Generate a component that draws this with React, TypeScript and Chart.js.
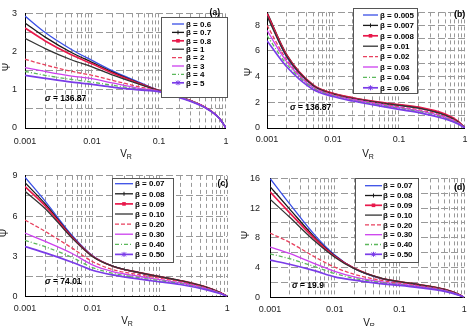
import React, { useEffect, useRef } from "react";
import { Chart, registerables } from "chart.js";
Chart.register(...registerables);

// ---------- data ----------
const V_R = [0.001, 0.002, 0.005, 0.01, 0.02, 0.05, 0.1, 0.2, 0.5, 0.8, 1];
const X_GRID = [
  0.001, 0.002, 0.003, 0.004, 0.005, 0.006, 0.007, 0.008, 0.009,
  0.01, 0.02, 0.03, 0.04, 0.05, 0.06, 0.07, 0.08, 0.09,
  0.1, 0.2, 0.3, 0.4, 0.5, 0.6, 0.7, 0.8, 0.9, 1,
];
const X_LABELS = ["0.001", "0.01", "0.1", "1"];

const BETA_A = ["0.6", "0.7", "0.8", "1", "2", "3", "4", "5"];
const PSI_A = [
  [2.93, 2.5, 2.05, 1.77, 1.5, 1.2, 0.98, 0.82, 0.53, 0.25, 0],
  [2.75, 2.38, 1.97, 1.72, 1.47, 1.18, 0.98, 0.82, 0.53, 0.25, 0],
  [2.62, 2.28, 1.91, 1.68, 1.44, 1.17, 0.98, 0.82, 0.53, 0.25, 0],
  [2.35, 2.08, 1.78, 1.6, 1.39, 1.15, 0.98, 0.82, 0.53, 0.25, 0],
  [1.8, 1.65, 1.48, 1.38, 1.25, 1.08, 0.97, 0.82, 0.53, 0.25, 0],
  [1.58, 1.48, 1.36, 1.29, 1.18, 1.04, 0.96, 0.81, 0.53, 0.25, 0],
  [1.48, 1.38, 1.27, 1.2, 1.12, 1.02, 0.95, 0.81, 0.52, 0.25, 0],
  [1.38, 1.3, 1.2, 1.14, 1.07, 1.0, 0.95, 0.8, 0.52, 0.25, 0],
];
const SIGMA_A = "136.87";

const BETA_B = ["0.005", "0.007", "0.008", "0.01", "0.02", "0.03", "0.04", "0.06"];
const PSI_B = [
  [8.85, 5.5, 3.3, 2.65, 2.3, 1.95, 1.75, 1.55, 1.0, 0.45, 0],
  [9.0, 5.7, 3.35, 2.7, 2.35, 2.0, 1.78, 1.58, 1.02, 0.47, 0],
  [8.9, 5.65, 3.35, 2.7, 2.35, 2.02, 1.82, 1.62, 1.08, 0.5, 0],
  [8.7, 5.55, 3.3, 2.65, 2.3, 1.98, 1.76, 1.55, 1.0, 0.45, 0],
  [8.0, 5.3, 3.2, 2.6, 2.25, 1.9, 1.65, 1.42, 0.9, 0.4, 0],
  [7.6, 5.15, 3.15, 2.55, 2.2, 1.85, 1.58, 1.35, 0.82, 0.36, 0],
  [7.2, 4.95, 3.1, 2.5, 2.15, 1.8, 1.52, 1.28, 0.77, 0.33, 0],
  [6.8, 4.75, 3.0, 2.45, 2.1, 1.72, 1.45, 1.2, 0.7, 0.3, 0],
];
const SIGMA_B = "136.87";

const BETA_C = ["0.07", "0.08", "0.09", "0.10", "0.20", "0.30", "0.40", "0.50"];
const PSI_C = [
  [8.9, 7.1, 4.55, 3.05, 2.25, 1.75, 1.45, 1.15, 0.65, 0.25, 0],
  [8.5, 6.9, 4.45, 3.0, 2.25, 1.75, 1.45, 1.15, 0.65, 0.25, 0],
  [8.2, 6.75, 4.4, 3.0, 2.25, 1.77, 1.47, 1.18, 0.67, 0.26, 0],
  [7.85, 6.55, 4.35, 2.98, 2.25, 1.77, 1.47, 1.18, 0.67, 0.26, 0],
  [5.7, 4.85, 3.6, 2.6, 2.0, 1.6, 1.35, 1.08, 0.6, 0.23, 0],
  [4.72, 4.1, 3.2, 2.35, 1.85, 1.48, 1.25, 1.0, 0.55, 0.22, 0],
  [4.18, 3.7, 2.9, 2.15, 1.72, 1.38, 1.17, 0.95, 0.52, 0.2, 0],
  [3.72, 3.25, 2.55, 1.95, 1.6, 1.28, 1.08, 0.88, 0.48, 0.19, 0],
];
const SIGMA_C = "74.01";

const BETA_D = ["0.07", "0.08", "0.09", "0.10", "0.20", "0.30", "0.40", "0.50"];
const PSI_D = [
  [16.0, 12.6, 8.3, 5.7, 3.9, 2.55, 2.05, 1.65, 1.0, 0.4, 0],
  [14.9, 11.9, 8.0, 5.6, 3.9, 2.6, 2.1, 1.7, 1.05, 0.42, 0],
  [14.2, 11.4, 7.8, 5.5, 3.9, 2.6, 2.12, 1.72, 1.07, 0.43, 0],
  [13.2, 10.8, 7.5, 5.4, 3.85, 2.6, 2.1, 1.7, 1.05, 0.42, 0],
  [8.65, 7.4, 5.4, 4.05, 3.1, 2.3, 1.9, 1.55, 0.95, 0.38, 0],
  [6.75, 5.9, 4.5, 3.5, 2.75, 2.1, 1.78, 1.45, 0.9, 0.36, 0],
  [5.85, 5.2, 4.1, 3.2, 2.55, 2.0, 1.7, 1.38, 0.85, 0.34, 0],
  [5.0, 4.45, 3.55, 2.75, 2.3, 1.85, 1.6, 1.3, 0.8, 0.32, 0],
];
const SIGMA_D = "19.9";

// ---------- styles ----------
const FONT = '"Liberation Sans", Arial, sans-serif';
const SERIES_STYLE = [
  { color: "#3a4fe6", width: 1.3, dash: [] as number[], marker: "" },
  { color: "#1a1a1a", width: 1.3, dash: [] as number[], marker: "cross" },
  { color: "#e8194b", width: 1.7, dash: [] as number[], marker: "square" },
  { color: "#333333", width: 1.3, dash: [] as number[], marker: "" },
  { color: "#e8405e", width: 1.3, dash: [4, 2], marker: "" },
  { color: "#cc40ee", width: 1.3, dash: [] as number[], marker: "" },
  { color: "#5cb85c", width: 1.3, dash: [4, 2, 1, 2], marker: "" },
  { color: "#7a3ce8", width: 1.7, dash: [] as number[], marker: "star" },
];

type PanelCfg = {
  tag: string;
  betas: string[];
  psi: number[][];
  sigma: string;
  yMax: number;
  yStep: number;
  yLabelStep: number;
  L: number; R: number; T: number; B: number;
  yPad: number; xPad: number;
  legend: { x: number; y: number; w: number; h: number; first: number; gap: number; s1: number; s2: number; tx: number };
  tagPos: [number, number];
  sigmaPos: [number, number];
  psiPos: [number, number];
  vrPos: [number, number];
};

const W = 237;
const H = 163;

const PANELS: { cfg: PanelCfg; left: number; top: number }[] = [
  {
    left: 0, top: 0,
    cfg: {
      tag: "(a)", betas: BETA_A, psi: PSI_A, sigma: SIGMA_A,
      yMax: 3, yStep: 0.5, yLabelStep: 1,
      L: 25, R: 227, T: 6, B: 128, yPad: 8, xPad: 8.5,
      legend: { x: 161, y: 17, w: 66, h: 80, first: 24, gap: 8.4, s1: 172, s2: 184, tx: 186 },
      tagPos: [220, 13], sigmaPos: [45, 99], psiPos: [7, 67], vrPos: [126, 154],
    },
  },
  {
    left: 237, top: 0,
    cfg: {
      tag: "(b)", betas: BETA_B, psi: PSI_B, sigma: SIGMA_B,
      yMax: 9, yStep: 1, yLabelStep: 2,
      L: 30, R: 231, T: 7.4, B: 128, yPad: 7, xPad: 6.5,
      legend: { x: 116, y: 8, w: 64, h: 85, first: 15, gap: 10.4, s1: 126, s2: 141, tx: 143 },
      tagPos: [228, 15], sigmaPos: [53, 108], psiPos: [12, 72], vrPos: [131, 154],
    },
  },
  {
    left: 0, top: 163,
    cfg: {
      tag: "(c)", betas: BETA_C, psi: PSI_C, sigma: SIGMA_C,
      yMax: 9, yStep: 1.5, yLabelStep: 3,
      L: 25, R: 229, T: 11.7, B: 133.3, yPad: 7.5, xPad: 7.3,
      legend: { x: 112, y: 15, w: 61, h: 84, first: 20.7, gap: 10.1, s1: 115, s2: 133, tx: 135 },
      tagPos: [228, 21], sigmaPos: [45, 119], psiPos: [5, 70], vrPos: [127, 158],
    },
  },
  {
    left: 237, top: 163,
    cfg: {
      tag: "(d)", betas: BETA_D, psi: PSI_D, sigma: SIGMA_D,
      yMax: 16, yStep: 2, yLabelStep: 4,
      L: 33, R: 231, T: 12.7, B: 134.3, yPad: 10, xPad: 7.3,
      legend: { x: 118, y: 15, w: 63, h: 84, first: 22.7, gap: 9.8, s1: 128, s2: 145, tx: 146 },
      tagPos: [228, 25], sigmaPos: [55, 122.7], psiPos: [9, 72], vrPos: [132, 160],
    },
  },
];

function isDecade(v: number) {
  const l = Math.log10(v);
  return Math.abs(l - Math.round(l)) < 1e-9;
}

function drawMarker(ctx: CanvasRenderingContext2D, kind: string, x: number, y: number, color: string) {
  ctx.save();
  ctx.setLineDash([]);
  ctx.strokeStyle = color;
  ctx.fillStyle = color;
  ctx.lineWidth = 1;
  if (kind === "square") {
    ctx.fillRect(x - 1.8, y - 1.8, 3.6, 3.6);
  } else if (kind === "cross") {
    ctx.beginPath();
    ctx.moveTo(x, y - 2);
    ctx.lineTo(x, y + 2);
    ctx.stroke();
  } else if (kind === "star") {
    ctx.beginPath();
    ctx.moveTo(x - 2, y - 2); ctx.lineTo(x + 2, y + 2);
    ctx.moveTo(x + 2, y - 2); ctx.lineTo(x - 2, y + 2);
    ctx.moveTo(x, y - 2.5); ctx.lineTo(x, y + 2.5);
    ctx.stroke();
  }
  ctx.restore();
}

function Panel({ cfg, left, top }: { cfg: PanelCfg; left: number; top: number }) {
  const ref = useRef<HTMLCanvasElement | null>(null);
  useEffect(() => {
    const canvas = ref.current;
    if (!canvas) return;
    const overlay = {
      id: "overlay",
      afterDatasetsDraw(chart: any) {
        const ctx: CanvasRenderingContext2D = chart.ctx;
        const lg = cfg.legend;
        ctx.save();
        ctx.fillStyle = "#ffffff";
        ctx.fillRect(lg.x, lg.y, lg.w, lg.h);
        ctx.strokeStyle = "#555555";
        ctx.lineWidth = 1;
        ctx.strokeRect(Math.round(lg.x) + 0.5, Math.round(lg.y) + 0.5, Math.round(lg.w), Math.round(lg.h));
        cfg.betas.forEach((b, i) => {
          const st = SERIES_STYLE[i];
          const y = lg.first + i * lg.gap;
          ctx.save();
          ctx.strokeStyle = st.color;
          ctx.lineWidth = st.width;
          ctx.setLineDash(st.dash);
          ctx.beginPath();
          ctx.moveTo(lg.s1, y);
          ctx.lineTo(lg.s2, y);
          ctx.stroke();
          ctx.restore();
          if (st.marker) drawMarker(ctx, st.marker, (lg.s1 + lg.s2) / 2, y, st.color);
          ctx.fillStyle = "#000";
          ctx.font = `bold 8px ${FONT}`;
          ctx.textBaseline = "middle";
          ctx.textAlign = "left";
          ctx.fillText(`β = ${b}`, lg.tx, y + 0.5);
        });
        // panel tag
        ctx.font = `bold 8.5px ${FONT}`;
        ctx.textAlign = "right";
        ctx.textBaseline = "middle";
        ctx.fillText(cfg.tag, cfg.tagPos[0], cfg.tagPos[1]);
        // sigma
        ctx.textAlign = "left";
        ctx.font = `italic bold 8.5px ${FONT}`;
        const s0 = "σ";
        ctx.fillText(s0, cfg.sigmaPos[0], cfg.sigmaPos[1]);
        const w0 = ctx.measureText(s0).width;
        ctx.font = `bold 8.5px ${FONT}`;
        ctx.fillText(` = ${cfg.sigma}`, cfg.sigmaPos[0] + w0, cfg.sigmaPos[1]);
        ctx.restore();
      },
      afterDraw(chart: any) {
        const ctx: CanvasRenderingContext2D = chart.ctx;
        ctx.save();
        ctx.fillStyle = "#111";
        ctx.translate(cfg.psiPos[0], cfg.psiPos[1]);
        ctx.rotate(-Math.PI / 2);
        ctx.font = `10px ${FONT}`;
        ctx.textAlign = "center";
        ctx.textBaseline = "middle";
        ctx.fillText("Ψ", 0, 0);
        ctx.restore();
        ctx.save();
        ctx.fillStyle = "#111";
        ctx.textBaseline = "middle";
        ctx.textAlign = "left";
        ctx.font = `10px ${FONT}`;
        const wv = ctx.measureText("V").width;
        ctx.font = `7px ${FONT}`;
        const wr = ctx.measureText("R").width;
        const x0 = cfg.vrPos[0] - (wv + wr) / 2;
        ctx.font = `10px ${FONT}`;
        ctx.fillText("V", x0, cfg.vrPos[1]);
        ctx.font = `7px ${FONT}`;
        ctx.fillText("R", x0 + wv, cfg.vrPos[1] + 3);
        ctx.restore();
      },
    };

    const datasets = cfg.psi.map((vals, i) => {
      const st = SERIES_STYLE[i];
      return {
        label: `β = ${cfg.betas[i]}`,
        data: V_R.map((x, k) => ({ x, y: vals[k] })),
        borderColor: st.color,
        backgroundColor: st.color,
        borderWidth: st.width,
        borderDash: st.dash,
        pointRadius: 0,
        fill: false,
        cubicInterpolationMode: "monotone" as const,
      };
    });

    const gridColor = "#999999";
    const chart = new Chart(canvas, {
      type: "line",
      data: { datasets: datasets.slice().reverse() },
      options: {
        responsive: false,
        animation: false,
        devicePixelRatio: 1,
        layout: { padding: { left: 0, top: cfg.T, right: W - cfg.R, bottom: 0 } },
        plugins: { legend: { display: false }, tooltip: { enabled: false } },
        scales: {
          x: {
            type: "logarithmic",
            min: 0.001,
            max: 1,
            afterBuildTicks: (s: any) => {
              s.ticks = X_GRID.map((v) => ({ value: v, major: isDecade(v) }));
            },
            afterFit: (s: any) => {
              s.height = H - cfg.B;
            },
            ticks: {
              autoSkip: false,
              maxRotation: 0,
              padding: cfg.xPad,
              color: "#222",
              font: { family: FONT, size: 9 },
              callback: (v: any) => {
                const n = Number(v);
                if (!isDecade(n)) return "";
                const idx = Math.round(Math.log10(n)) + 3;
                return X_LABELS[idx];
              },
            },
            grid: { color: gridColor, lineWidth: 1, drawTicks: false },
            border: { display: true, color: "#000", width: 1, dash: [4, 3] },
          },
          y: {
            type: "linear",
            min: 0,
            max: cfg.yMax,
            afterFit: (s: any) => {
              s.width = cfg.L;
            },
            ticks: {
              stepSize: cfg.yStep,
              autoSkip: false,
              padding: cfg.yPad,
              color: "#222",
              font: { family: FONT, size: 9 },
              callback: (v: any) => {
                const n = Number(v);
                const q = n / cfg.yLabelStep;
                return Math.abs(q - Math.round(q)) < 1e-6 ? String(Math.round(n)) : "";
              },
            },
            grid: { color: gridColor, lineWidth: 1, drawTicks: false },
            border: { display: true, color: "#000", width: 1, dash: [7, 3] },
          },
        },
      },
      plugins: [overlay],
    } as any);
    return () => chart.destroy();
  }, [cfg]);
  return (
    <canvas
      ref={ref}
      width={W}
      height={H}
      style={{ position: "absolute", left, top, width: W, height: H, display: "block" }}
    />
  );
}

export default function App() {
  return (
    <div style={{ position: "absolute", left: 0, top: 0, width: 474, height: 326, background: "#fff" }}>
      {PANELS.map((p, i) => (
        <Panel key={i} cfg={p.cfg} left={p.left} top={p.top} />
      ))}
    </div>
  );
}
